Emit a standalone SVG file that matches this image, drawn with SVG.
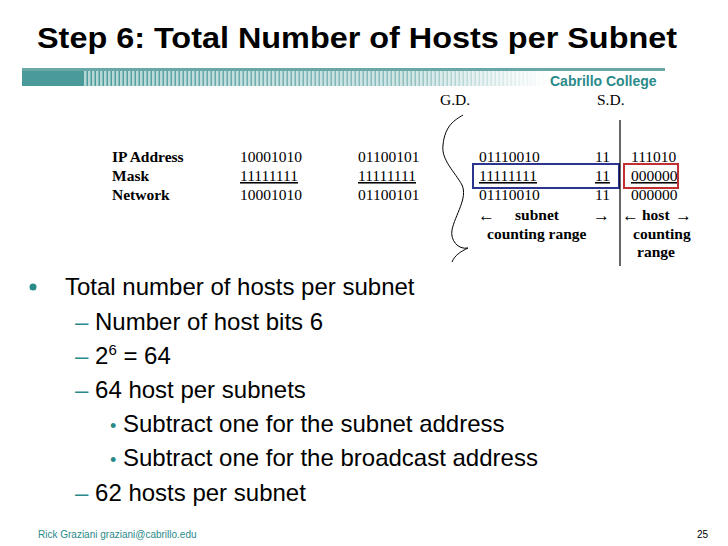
<svg xmlns="http://www.w3.org/2000/svg" width="728" height="546" viewBox="0 0 728 546">
<defs>
<linearGradient id="fade" x1="0" x2="1" y1="0" y2="0">
<stop offset="0" stop-color="#4a9a9a"/><stop offset="0.7" stop-color="#8fc0c0"/><stop offset="1" stop-color="#ffffff"/>
</linearGradient>
<pattern id="stripes" width="4" height="10" patternUnits="userSpaceOnUse">
<rect width="2.5" height="10" fill="#fff"/>
</pattern>
</defs>
<style>
.t{font-family:"Liberation Serif",serif;font-size:15.5px;fill:#000}
.b{font-weight:bold}
.s{font-family:"Liberation Sans",Arial,sans-serif;fill:#000}
</style>
<rect width="728" height="546" fill="#fff"/>
<text x="37" y="48" class="s b" font-size="29" font-weight="bold" textLength="640" lengthAdjust="spacingAndGlyphs">Step 6: Total Number of Hosts per Subnet</text>
<g id="header">
<rect x="22" y="68" width="643" height="3" fill="#6aa8a8"/>
<polygon points="22,71 88,71 80,86 22,86" fill="#4a9a9a"/>
<rect x="80" y="71" width="470" height="15" fill="url(#fade)"/>
<rect x="84" y="71" width="466" height="15" fill="url(#stripes)" opacity="0.6"/>
<text x="550" y="86" class="s" font-size="14" font-weight="bold" style="fill:#2a8a8a">Cabrillo College</text>
</g>
<text x="440" y="105" class="t">G.D.</text>
<text x="597" y="105" class="t">S.D.</text>
<g id="table">
<text x="112" y="162" class="t b">IP Address</text>
<text x="112" y="181" class="t b">Mask</text>
<text x="112" y="200" class="t b">Network</text>
<text x="240" y="162" class="t">10001010</text>
<text x="240" y="181" class="t" text-decoration="underline">11111111</text>
<text x="240" y="200" class="t">10001010</text>
<text x="358" y="162" class="t">01100101</text>
<text x="358" y="181" class="t" text-decoration="underline">11111111</text>
<text x="358" y="200" class="t">01100101</text>
<text x="479" y="162" class="t">01110010</text>
<text x="479" y="181" class="t" text-decoration="underline">11111111</text>
<text x="479" y="200" class="t">01110010</text>
<text x="595" y="162" class="t">11</text>
<text x="595" y="181" class="t" text-decoration="underline">11</text>
<text x="595" y="200" class="t">11</text>
<text x="631" y="162" class="t">111010</text>
<text x="631" y="181" class="t" text-decoration="underline">000000</text>
<text x="631" y="200" class="t">000000</text>
<text x="478" y="221" class="s" font-size="17">←</text>
<text x="515" y="220" class="t b">subnet</text>
<text x="593" y="221" class="s" font-size="17">→</text>
<text x="622" y="221" class="s" font-size="17">←</text>
<text x="642" y="220" class="t b">host</text>
<text x="675" y="221" class="s" font-size="17">→</text>
<text x="487" y="239" class="t b">counting range</text>
<text x="633" y="239" class="t b">counting</text>
<text x="637" y="257" class="t b">range</text>
</g>
<g id="shapes" fill="none">
<rect x="473" y="164" width="146" height="24" stroke="#2b3590" stroke-width="2"/>
<rect x="624" y="164" width="54" height="24" stroke="#c03030" stroke-width="2"/>
<line x1="620" y1="120" x2="620" y2="266" stroke="#000" stroke-width="1.2"/>
<path d="M463,115 C455,120 445,125 443,145 C441,160 455,172 462,185 C468,198 455,215 452,230 C450,240 458,250 468,248 M452,262 C455,255 460,252 468,248" stroke="#000" stroke-width="1"/>
</g>
<g id="bullets" class="s">
<circle cx="33" cy="287" r="3.5" fill="#2a8a8a"/>
<text x="65" y="295" class="s" font-size="24">Total number of hosts per subnet</text>
<text x="75" y="330" class="s" font-size="24"><tspan fill="#2a8a8a">–</tspan> Number of host bits 6</text>
<text x="75" y="364" class="s" font-size="24"><tspan fill="#2a8a8a">–</tspan> 2<tspan font-size="15" dy="-9">6</tspan><tspan dy="9"> = 64</tspan></text>
<text x="75" y="398" class="s" font-size="24"><tspan fill="#2a8a8a">–</tspan> 64 host per subnets</text>
<text x="110" y="432" class="s" font-size="24"><tspan fill="#2a8a8a" font-size="18">•</tspan> Subtract one for the subnet address</text>
<text x="110" y="466" class="s" font-size="24"><tspan fill="#2a8a8a" font-size="18">•</tspan> Subtract one for the broadcast address</text>
<text x="75" y="501" class="s" font-size="24"><tspan fill="#2a8a8a">–</tspan> 62 hosts per subnet</text>
</g>
<text x="38" y="538" class="s" font-size="10" style="fill:#2a8a8a">Rick Graziani  graziani@cabrillo.edu</text>
<text x="708" y="538" class="s" font-size="10" text-anchor="end">25</text>
</svg>
